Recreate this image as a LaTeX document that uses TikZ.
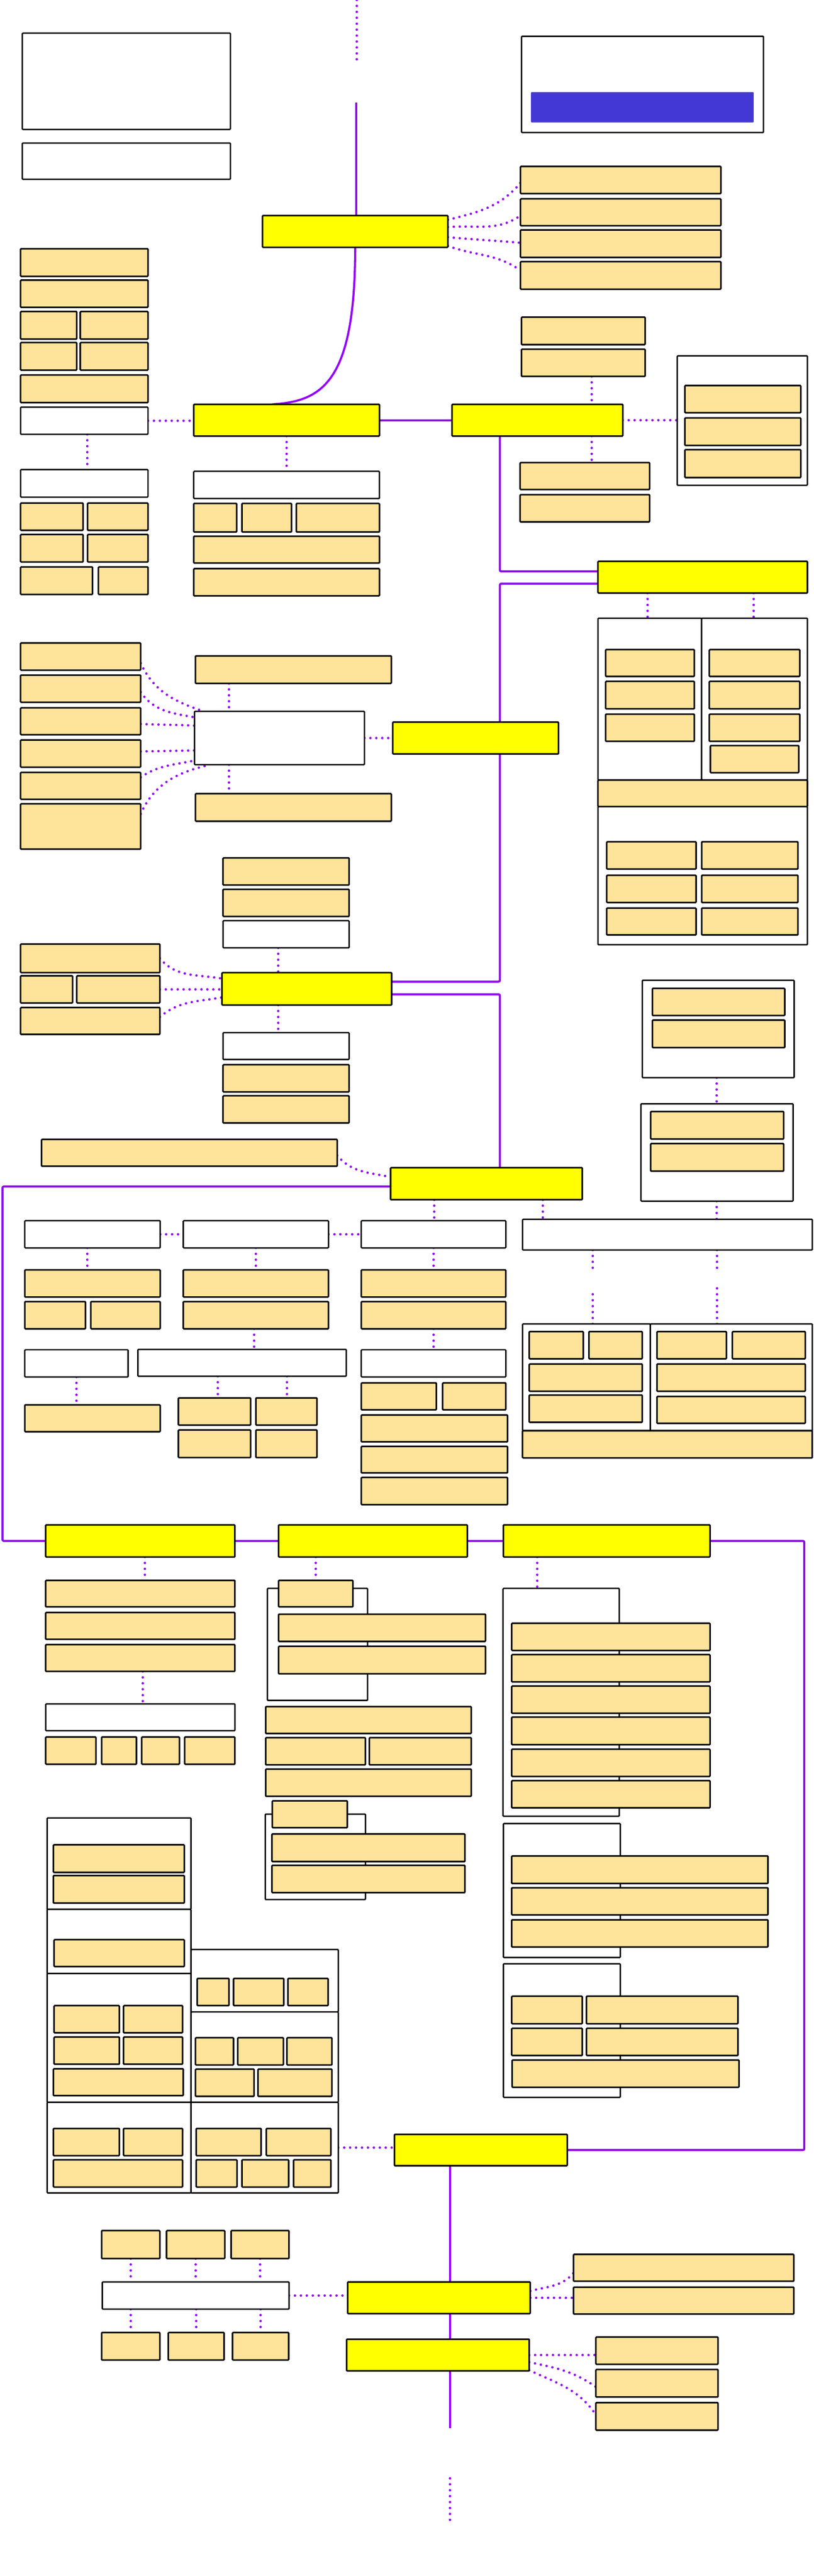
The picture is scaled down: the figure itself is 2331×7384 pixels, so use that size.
\documentclass[tikz,border=0pt]{standalone}
\usetikzlibrary{fit}
\definecolor{tanf}{RGB}{254,228,154}
\definecolor{yel}{RGB}{255,255,0}
\definecolor{vio}{RGB}{148,0,250}
\definecolor{bluebar}{RGB}{67,56,214}
\pgfdeclarelayer{back}
\pgfsetlayers{back,main}
\newcommand\mybox[6]{\node[#1, fit={(#3,#4) (#5,#6)}] (#2) {};}
\tikzset{
  base/.style={inner sep=0pt, outer sep=0pt, rounded corners=2pt},
  tanb/.style={base, draw=black, fill=tanf, line width=4.5pt},
  yelb/.style={base, draw=black, fill=yel, line width=4.5pt},
  whtb/.style={base, draw=black, fill=white, line width=4pt},
  barb/.style={base, fill=bluebar},
  solidln/.style={draw=vio, line width=6pt, line join=round, rounded corners=4pt},
  dotln/.style={draw=vio, line width=7pt, line cap=round, dash pattern=on 0pt off 17pt},
}
\begin{document}
\begin{tikzpicture}[x=1pt, y=-1pt]
\useasboundingbox (0,0) rectangle (2331,7384);
\begin{pgfonlayer}{back}
\fill[white] (0,0) rectangle (2331,7384);
\end{pgfonlayer}
% named coordinates
\coordinate (tdA) at (1022,0); \coordinate (tdB) at (1022,172);
\coordinate (tsA) at (1020,294);
\coordinate (spA) at (1432,0); \coordinate (spB) at (1289,0);
\coordinate (railL) at (7,0); \coordinate (railR) at (2304,0);
\coordinate (endS) at (1289,6960);
\coordinate (endDA) at (1289,7104); \coordinate (endDB) at (1289,7236);
\coordinate (xa) at (250,0); \coordinate (xb) at (1695,0);
\coordinate (xc) at (1855,0); \coordinate (xd) at (2159,0);
\coordinate (xe) at (656,0); \coordinate (xf) at (797,0);
\coordinate (xg) at (2053,0); \coordinate (xh) at (1244,0);
\coordinate (xi) at (1555,0); \coordinate (xj) at (728,0);
\coordinate (xk) at (624,0); \coordinate (xl) at (822,0);
\coordinate (xm) at (1698,0); \coordinate (xn) at (2054,0);
\coordinate (xo) at (415,0); \coordinate (xp) at (409,0);
\coordinate (xq) at (1539,0);

% ---------- top ----------
\mybox{whtb}{wA}{64}{95}{660}{371}
\mybox{whtb}{wB}{64}{410}{660}{514}
\mybox{whtb}{wC}{1494}{104}{2187}{380}
\mybox{barb}{wCbar}{1521}{264}{2159}{351}
\mybox{yelb}{Y1}{752}{618}{1283}{709}
\mybox{tanb}{t1a}{1491}{477}{2065}{555}
\mybox{tanb}{t1b}{1491}{570}{2065}{647}
\mybox{tanb}{t1c}{1491}{659}{2065}{738}
\mybox{tanb}{t1d}{1491}{750}{2065}{829}
% ---------- left column ----------
\mybox{tanb}{la1}{59}{713}{424}{792}
\mybox{tanb}{la2}{59}{803}{424}{881}
\mybox{tanb}{la3a}{59}{893}{220}{972}
\mybox{tanb}{la3b}{230}{893}{424}{972}
\mybox{tanb}{la4a}{59}{982}{220}{1061}
\mybox{tanb}{la4b}{230}{982}{424}{1061}
\mybox{tanb}{la5}{59}{1075}{424}{1154}
\mybox{whtb}{Lw}{59}{1167}{424}{1245}
\mybox{whtb}{Lw2}{59}{1346}{424}{1425}
\mybox{tanb}{lb1a}{59}{1442}{238}{1520}
\mybox{tanb}{lb1b}{251}{1442}{424}{1520}
\mybox{tanb}{lb2a}{59}{1532}{238}{1611}
\mybox{tanb}{lb2b}{251}{1532}{424}{1611}
\mybox{tanb}{lb3a}{59}{1625}{265}{1704}
\mybox{tanb}{lb3b}{282}{1625}{424}{1704}
% ---------- Y2 ----------
\mybox{yelb}{Y2}{555}{1159}{1087}{1250}
\mybox{whtb}{Mw}{555}{1351}{1087}{1429}
\mybox{tanb}{m1a}{555}{1443}{678}{1525}
\mybox{tanb}{m1b}{693}{1443}{835}{1525}
\mybox{tanb}{m1c}{849}{1443}{1087}{1525}
\mybox{tanb}{m2}{555}{1537}{1087}{1614}
\mybox{tanb}{m3}{555}{1630}{1087}{1708}
% ---------- Y3 ----------
\mybox{yelb}{Y3}{1295}{1159}{1784}{1250}
\mybox{tanb}{rt1}{1494}{909}{1848}{988}
\mybox{tanb}{rt2}{1494}{1001}{1848}{1079}
\mybox{tanb}{rb1}{1490}{1326}{1861}{1403}
\mybox{tanb}{rb2}{1490}{1418}{1861}{1496}
\mybox{whtb}{Rc}{1940}{1020}{2313}{1391}
\mybox{tanb}{rc1}{1962}{1105}{2294}{1183}
\mybox{tanb}{rc2}{1962}{1198}{2294}{1277}
\mybox{tanb}{rc3}{1962}{1289}{2294}{1369}
% ---------- Y4 ----------
\mybox{yelb}{Y4}{1713}{1609}{2313}{1700}
\mybox{whtb}{BCa}{1713}{1772}{2010}{2236}
\mybox{whtb}{BCb}{2010}{1772}{2313}{2236}
\mybox{tanb}{BCband}{1713}{2236}{2313}{2312}
\mybox{whtb}{BCc}{1713}{2312}{2313}{2708}
\mybox{tanb}{bca1}{1735}{1862}{1989}{1939}
\mybox{tanb}{bca2}{1735}{1953}{1989}{2032}
\mybox{tanb}{bca3}{1735}{2047}{1989}{2125}
\mybox{tanb}{bcb1}{2032}{1862}{2291}{1939}
\mybox{tanb}{bcb2}{2032}{1953}{2291}{2032}
\mybox{tanb}{bcb3}{2032}{2047}{2291}{2125}
\mybox{tanb}{bcb4}{2035}{2137}{2288}{2215}
\mybox{tanb}{bcc1a}{1738}{2413}{1994}{2491}
\mybox{tanb}{bcc1b}{2010}{2413}{2286}{2491}
\mybox{tanb}{bcc2a}{1738}{2509}{1994}{2587}
\mybox{tanb}{bcc2b}{2010}{2509}{2286}{2587}
\mybox{tanb}{bcc3a}{1738}{2603}{1994}{2680}
\mybox{tanb}{bcc3b}{2010}{2603}{2286}{2680}
% ---------- Y5 ----------
\mybox{yelb}{Y5}{1125}{2070}{1600}{2161}
\mybox{whtb}{Cw}{557}{2039}{1044}{2192}
\mybox{tanb}{Ct}{560}{1880}{1121}{1959}
\mybox{tanb}{Cb}{560}{2275}{1121}{2354}
\mybox{tanb}{c1}{59}{1843}{403}{1921}
\mybox{tanb}{c2}{59}{1935}{403}{2013}
\mybox{tanb}{c3}{59}{2029}{403}{2106}
\mybox{tanb}{c4}{59}{2121}{403}{2199}
\mybox{tanb}{c5}{59}{2214}{403}{2291}
\mybox{tanb}{c6}{59}{2304}{403}{2434}
% ---------- Y6 ----------
\mybox{yelb}{Y6}{636}{2788}{1122}{2881}
\mybox{tanb}{y6a1}{639}{2459}{1000}{2537}
\mybox{tanb}{y6a2}{639}{2549}{1000}{2627}
\mybox{whtb}{y6aw}{639}{2639}{1000}{2717}
\mybox{tanb}{y6l1}{59}{2706}{458}{2788}
\mybox{tanb}{y6l2a}{59}{2797}{208}{2875}
\mybox{tanb}{y6l2b}{220}{2797}{458}{2875}
\mybox{tanb}{y6l3}{59}{2888}{458}{2965}
\mybox{whtb}{y6bw}{639}{2960}{1000}{3037}
\mybox{tanb}{y6b1}{639}{3052}{1000}{3130}
\mybox{tanb}{y6b2}{639}{3141}{1000}{3219}
\mybox{tanb}{lt}{119}{3266}{966}{3343}
% ---------- right stack ----------
\mybox{whtb}{R1}{1840}{2810}{2275}{3089}
\mybox{tanb}{r1a}{1869}{2833}{2248}{2911}
\mybox{tanb}{r1b}{1869}{2924}{2248}{3003}
\mybox{whtb}{R2}{1836}{3164}{2272}{3443}
\mybox{tanb}{r2a}{1864}{3186}{2245}{3265}
\mybox{tanb}{r2b}{1864}{3278}{2245}{3357}
% ---------- Y7 ----------
\mybox{yelb}{Y7}{1119}{3347}{1668}{3439}
\mybox{whtb}{Wd}{1497}{3495}{2327}{3583}
\mybox{whtb}{WA}{71}{3499}{459}{3577}
\mybox{whtb}{WB}{525}{3499}{941}{3577}
\mybox{whtb}{WC}{1035}{3499}{1449}{3577}
\mybox{tanb}{wa1}{71}{3640}{459}{3718}
\mybox{tanb}{wa2a}{71}{3731}{245}{3809}
\mybox{tanb}{wa2b}{260}{3731}{459}{3809}
\mybox{tanb}{wb1}{525}{3640}{941}{3718}
\mybox{tanb}{wb2}{525}{3731}{941}{3809}
\mybox{tanb}{wc1}{1035}{3640}{1449}{3718}
\mybox{tanb}{wc2}{1035}{3731}{1449}{3809}
\mybox{whtb}{WD1}{71}{3869}{367}{3947}
\mybox{whtb}{WD2}{395}{3868}{992}{3945}
\mybox{whtb}{WE}{1035}{3869}{1449}{3947}
\mybox{tanb}{wd1t}{71}{4027}{459}{4104}
\mybox{tanb}{g11}{511}{4007}{718}{4085}
\mybox{tanb}{g12}{733}{4007}{908}{4085}
\mybox{tanb}{g21}{511}{4099}{718}{4178}
\mybox{tanb}{g22}{733}{4099}{908}{4178}
\mybox{tanb}{we1a}{1035}{3964}{1250}{4041}
\mybox{tanb}{we1b}{1268}{3964}{1449}{4041}
\mybox{tanb}{we2}{1035}{4056}{1454}{4133}
\mybox{tanb}{we3}{1035}{4146}{1454}{4222}
\mybox{tanb}{we4}{1035}{4235}{1454}{4313}
\mybox{whtb}{Ca}{1497}{3795}{1863}{4101}
\mybox{whtb}{Cb2}{1863}{3795}{2327}{4101}
\mybox{tanb}{Cband}{1497}{4101}{2327}{4179}
\mybox{tanb}{ca1a}{1516}{3817}{1671}{3895}
\mybox{tanb}{ca1b}{1687}{3817}{1840}{3895}
\mybox{tanb}{ca2}{1516}{3910}{1840}{3988}
\mybox{tanb}{ca3}{1516}{3999}{1840}{4077}
\mybox{tanb}{cb1a}{1882}{3817}{2081}{3895}
\mybox{tanb}{cb1b}{2098}{3817}{2307}{3895}
\mybox{tanb}{cb2}{1882}{3910}{2307}{3988}
\mybox{tanb}{cb3}{1882}{4003}{2307}{4080}
% ---------- Y8 Y9 Y10 ----------
\mybox{yelb}{Y8}{131}{4371}{673}{4463}
\mybox{yelb}{Y9}{798}{4371}{1339}{4463}
\mybox{yelb}{Y10}{1442}{4371}{2034}{4463}
\mybox{tanb}{y8a}{131}{4530}{673}{4606}
\mybox{tanb}{y8b}{131}{4622}{673}{4699}
\mybox{tanb}{y8c}{131}{4714}{673}{4791}
\mybox{whtb}{y8w}{131}{4884}{673}{4961}
\mybox{tanb}{y8d1}{131}{4979}{275}{5057}
\mybox{tanb}{y8d2}{291}{4979}{391}{5057}
\mybox{tanb}{y8d3}{406}{4979}{514}{5057}
\mybox{tanb}{y8d4}{529}{4979}{673}{5057}
\mybox{whtb}{G1}{766}{4553}{1053}{4874}
\mybox{tanb}{g1s}{798}{4530}{1011}{4606}
\mybox{tanb}{g1a}{798}{4627}{1391}{4705}
\mybox{tanb}{g1b}{798}{4719}{1391}{4798}
\mybox{tanb}{y9a}{761}{4892}{1350}{4969}
\mybox{tanb}{y9b1}{761}{4981}{1047}{5059}
\mybox{tanb}{y9b2}{1058}{4981}{1350}{5059}
\mybox{tanb}{y9c}{761}{5071}{1350}{5149}
\mybox{whtb}{G2}{760}{5200}{1047}{5445}
\mybox{tanb}{g2s}{780}{5162}{995}{5239}
\mybox{tanb}{g2a}{779}{5257}{1332}{5336}
\mybox{tanb}{g2b}{779}{5347}{1332}{5425}
\mybox{whtb}{H1}{1441}{4553}{1774}{5206}
\mybox{tanb}{h1a}{1466}{4653}{2034}{4731}
\mybox{tanb}{h1b}{1466}{4743}{2034}{4821}
\mybox{tanb}{h1c}{1466}{4833}{2034}{4911}
\mybox{tanb}{h1d}{1466}{4922}{2034}{5001}
\mybox{tanb}{h1e}{1466}{5014}{2034}{5092}
\mybox{tanb}{h1f}{1466}{5104}{2034}{5182}
\mybox{whtb}{H2}{1442}{5227}{1777}{5611}
\mybox{tanb}{h2a}{1466}{5320}{2200}{5399}
\mybox{tanb}{h2b}{1466}{5411}{2200}{5489}
\mybox{tanb}{h2c}{1466}{5503}{2200}{5581}
\mybox{whtb}{H3}{1442}{5629}{1777}{6012}
\mybox{tanb}{h3a}{1466}{5722}{1668}{5801}
\mybox{tanb}{h3b}{1680}{5722}{2114}{5801}
\mybox{tanb}{h3c}{1466}{5814}{1668}{5892}
\mybox{tanb}{h3d}{1680}{5814}{2114}{5892}
\mybox{tanb}{h3e}{1467}{5905}{2117}{5983}
% ---------- K / L block ----------
\mybox{whtb}{K1}{135}{5211}{547}{5473}
\mybox{tanb}{k1a}{153}{5288}{528}{5367}
\mybox{tanb}{k1b}{153}{5376}{528}{5455}
\mybox{whtb}{K2}{135}{5473}{547}{5657}
\mybox{tanb}{k2a}{155}{5560}{528}{5637}
\mybox{whtb}{K3}{135}{5657}{547}{6026}
\mybox{tanb}{k3a}{155}{5749}{342}{5827}
\mybox{tanb}{k3b}{354}{5749}{523}{5827}
\mybox{tanb}{k3c}{155}{5839}{342}{5917}
\mybox{tanb}{k3d}{354}{5839}{523}{5917}
\mybox{tanb}{k3e}{153}{5930}{525}{6007}
\mybox{whtb}{K4}{135}{6026}{547}{6286}
\mybox{tanb}{k4a}{153}{6101}{342}{6179}
\mybox{tanb}{k4b}{354}{6101}{523}{6179}
\mybox{tanb}{k4c}{153}{6191}{523}{6269}
\mybox{whtb}{L1}{547}{5588}{969}{5767}
\mybox{tanb}{l1a}{565}{5671}{656}{5749}
\mybox{tanb}{l1b}{669}{5671}{813}{5749}
\mybox{tanb}{l1c}{825}{5671}{940}{5749}
\mybox{whtb}{L2}{547}{5767}{969}{6026}
\mybox{tanb}{l2a}{560}{5841}{669}{5919}
\mybox{tanb}{l2b}{681}{5841}{812}{5919}
\mybox{tanb}{l2c}{822}{5841}{951}{5919}
\mybox{tanb}{l2d}{560}{5931}{728}{6009}
\mybox{tanb}{l2e}{739}{5931}{951}{6009}
\mybox{whtb}{L3}{547}{6026}{969}{6286}
\mybox{tanb}{l3a}{562}{6101}{748}{6179}
\mybox{tanb}{l3b}{763}{6101}{948}{6179}
\mybox{tanb}{l3c}{562}{6191}{679}{6269}
\mybox{tanb}{l3d}{693}{6191}{827}{6269}
\mybox{tanb}{l3e}{841}{6191}{948}{6269}
% ---------- bottom ----------
\mybox{yelb}{Y11}{1130}{6118}{1625}{6208}
\mybox{yelb}{Y12}{996}{6541}{1519}{6632}
\mybox{yelb}{Y13}{993}{6705}{1516}{6796}
\mybox{tanb}{gt1}{291}{6394}{458}{6474}
\mybox{tanb}{gt2}{477}{6394}{644}{6474}
\mybox{tanb}{gt3}{662}{6394}{828}{6474}
\mybox{whtb}{gw}{293}{6541}{828}{6619}
\mybox{tanb}{gb1}{291}{6686}{458}{6765}
\mybox{tanb}{gb2}{482}{6686}{642}{6765}
\mybox{tanb}{gb3}{666}{6686}{827}{6765}
\mybox{tanb}{r12a}{1643}{6462}{2274}{6539}
\mybox{tanb}{r12b}{1643}{6556}{2274}{6633}
\mybox{tanb}{r13a}{1707}{6699}{2057}{6777}
\mybox{tanb}{r13b}{1707}{6792}{2057}{6871}
\mybox{tanb}{r13c}{1707}{6887}{2057}{6966}

% ================= connectors =================
\begin{pgfonlayer}{back}
% solid spine
\draw[dotln] (tdA) -- (tdB);
\draw[solidln] (tsA) -- (tsA |- Y1.north);
\draw[solidln] (Y1.south) .. controls +(0,391) and +(140,-9) .. ([xshift=-41pt]Y2.north);
\draw[solidln] (Y2.east) -- (Y3.west);
\draw[solidln] (Y3.south -| spA) |- ([yshift=16.5pt]Y4.west);
\draw[solidln] ([yshift=-18.5pt]Y4.west) -| (Y5.north -| spA);
\draw[solidln] (Y5.south -| spA) |- ([yshift=20.5pt]Y6.east);
\draw[solidln] ([yshift=-15.5pt]Y6.east) -| (Y7.north -| spA);
\draw[solidln] ([yshift=-8pt]Y7.west) -| (railL |- Y8.west) -- (Y8.west);
\draw[solidln] (Y8.east) -- (Y9.west);
\draw[solidln] (Y9.east) -- (Y10.west);
\draw[solidln] (Y10.east) -| (railR |- Y11.east) -- (Y11.east);
\draw[solidln] (Y11.south -| spB) -- (Y12.north -| spB);
\draw[solidln] (Y12.south -| spB) -- (Y13.north -| spB);
\draw[solidln] (Y13.south -| spB) -- (endS);
\draw[dotln] (endDA) -- (endDB);
% Y1 fan
\draw[dotln] ([yshift=33.5pt]Y1.east) to[out=14,in=-130] ([yshift=-8pt]t1a.west);
\draw[dotln] ([yshift=12.5pt]Y1.east) to[out=5,in=-145] ([yshift=-9.5pt]t1b.west);
\draw[dotln] ([yshift=-16.5pt]Y1.east) to[out=-5,in=175] ([yshift=2.5pt]t1c.west);
\draw[dotln] ([yshift=-41.5pt]Y1.east) to[out=-20,in=145] ([yshift=14.5pt]t1d.west);
% Y2 / left column
\draw[dotln] (Lw.east) -- (Lw.east -| Y2.west);
\draw[dotln] (Lw.south -| xa) -- (Lw2.north -| xa);
\draw[dotln] (Y2.south) -- (Mw.north);
% Y3
\draw[dotln] (rt2.south -| xb) -- (Y3.north -| xb);
\draw[dotln] (Y3.south -| xb) -- (rb1.north -| xb);
\draw[dotln] (Y3.east) -- (Y3.east -| Rc.west);
% Y4
\draw[dotln] (Y4.south -| xc) -- (BCa.north -| xc);
\draw[dotln] (Y4.south -| xd) -- (BCb.north -| xd);
% Y5
\draw[dotln] (Cw.east) -- (Y5.west);
\draw[dotln] (Ct.south -| xe) -- (Cw.north -| xe);
\draw[dotln] (Cw.south -| xe) -- (Cb.north -| xe);
\draw[dotln] ([yshift=-19pt]c1.east) to[out=-65,in=162] ([xshift=27pt]Cw.north west);
\draw[dotln] ([yshift=-10pt]c2.east) to[out=-55,in=170] ([yshift=-17pt]Cw.north west);
\draw[dotln] ([yshift=-7.5pt]c3.east) to[out=-3,in=177] ([yshift=-41pt]Cw.north west);
\draw[dotln] ([yshift=6pt]c4.east) -- ([yshift=-112pt]Cw.north west);
\draw[dotln] ([yshift=24.5pt]c5.east) to[out=34,in=-168] ([yshift=12pt]Cw.south west);
\draw[dotln] ([yshift=36pt]c6.east) to[out=66,in=-167] ([xshift=45pt]Cw.south west);
% Y6
\draw[dotln] (y6aw.south -| xf) -- (Y6.north -| xf);
\draw[dotln] (Y6.south -| xf) -- (y6bw.north -| xf);
\draw[dotln] (y6l1.east) to[out=-50,in=170] ([yshift=-17pt]Y6.north west);
\draw[dotln] (y6l2b.east) -- (y6l2b.east -| Y6.west);
\draw[dotln] ([yshift=11.5pt]y6l3.east) to[out=40,in=-170] ([yshift=-24.5pt]Y6.west);
\draw[dotln] ([yshift=-7.5pt]lt.east) to[out=-50,in=168] ([yshift=-27pt]Y7.north west);
% right stack and Y7
\draw[dotln] (R1.south -| xg) -- (R2.north -| xg);
\draw[dotln] (R2.south -| xg) -- (Wd.north -| xg);
\draw[dotln] (Y7.south -| xh) -- (WC.north -| xh);
\draw[dotln] (Y7.south -| xi) -- (Wd.north -| xi);
\draw[dotln] (WA.east) -- (WB.west);
\draw[dotln] (WB.east) -- (WC.west);
\draw[dotln] (WA.south -| xa) -- (wa1.north -| xa);
\draw[dotln] (WB.south) -- (wb1.north);
\draw[dotln] (WC.south) -- (wc1.north);
\draw[dotln] (wb2.south -| xj) -- (WD2.north -| xj);
\draw[dotln] (wc2.south) -- (WE.north);
\draw[dotln] (WD1.south) -- (WD1.south |- wd1t.north);
\draw[dotln] (WD2.south -| xk) -- (g11.north -| xk);
\draw[dotln] (WD2.south -| xl) -- (g12.north -| xl);
\draw[dotln] (Wd.south -| xm) -- ++(0,54);
\draw[dotln] (Ca.north -| xm) -- ++(0,-94);
\draw[dotln] (Wd.south -| xn) -- ++(0,59);
\draw[dotln] (Cb2.north -| xn) -- ++(0,-107);
% Y8 Y9 Y10
\draw[dotln] (Y8.south -| xo) -- (y8a.north -| xo);
\draw[dotln] (y8c.south -| xp) -- (y8w.north -| xp);
\draw[dotln] (Y9.south -| g1s.south) -- (g1s.north);
\draw[dotln] (Y10.south -| xq) -- (H1.north -| xq);
% Y11 Y12 Y13
\draw[dotln] (L3.east) -- (L3.east -| Y11.west);
\draw[dotln] (gt1.south) -- (gt1.south |- gw.north);
\draw[dotln] (gt2.south) -- (gt2.south |- gw.north);
\draw[dotln] (gt3.south) -- (gt3.south |- gw.north);
\draw[dotln] (gb1.north |- gw.south) -- (gb1.north);
\draw[dotln] (gb2.north |- gw.south) -- (gb2.north);
\draw[dotln] (gb3.north |- gw.south) -- (gb3.north);
\draw[dotln] (gw.east) -- (gw.east -| Y12.west);
\draw[dotln] ([yshift=19.5pt]Y12.east) to[out=15,in=-130] ([yshift=-14.5pt]r12a.west);
\draw[dotln] (Y12.east) -- (Y12.east -| r12b.west);
\draw[dotln] (Y13.east) -- (Y13.east -| r13a.west);
\draw[dotln] ([yshift=-20.5pt]Y13.east) to[out=-12,in=145] ([yshift=-10.5pt]r13b.west);
\draw[dotln] ([yshift=-43.5pt]Y13.east) to[out=-25,in=124] ([yshift=4.5pt]r13c.west);
\end{pgfonlayer}
\end{tikzpicture}
\end{document}
